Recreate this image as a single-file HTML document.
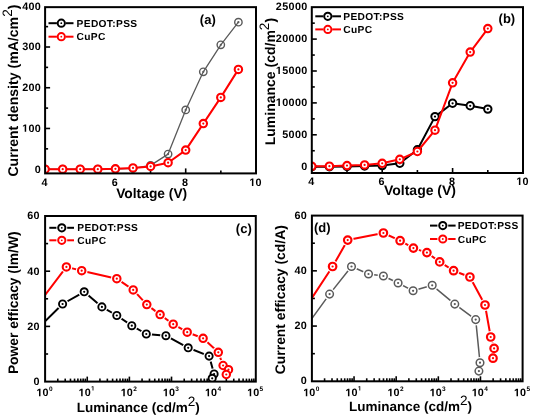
<!DOCTYPE html>
<html><head><meta charset="utf-8"><style>
html,body{margin:0;padding:0;background:#fff;}
body{width:533px;height:418px;overflow:hidden;font-family:"Liberation Sans",sans-serif;}
svg{display:block;will-change:transform;}
</style></head><body>
<svg width="533" height="418" viewBox="0 0 533 418" text-rendering="geometricPrecision">
<rect width="533" height="418" fill="#fff"/>
<clipPath id="cA"><rect x="45.1" y="7.15" width="210.9" height="166.25"/></clipPath>
<line x1="45.1" y1="169.2" x2="50.1" y2="169.2" stroke="#000" stroke-width="1.6"/>
<line x1="45.1" y1="148.83499999999998" x2="48.1" y2="148.83499999999998" stroke="#000" stroke-width="1.6"/>
<line x1="45.1" y1="128.47" x2="50.1" y2="128.47" stroke="#000" stroke-width="1.6"/>
<line x1="45.1" y1="108.10499999999999" x2="48.1" y2="108.10499999999999" stroke="#000" stroke-width="1.6"/>
<line x1="45.1" y1="87.74" x2="50.1" y2="87.74" stroke="#000" stroke-width="1.6"/>
<line x1="45.1" y1="67.37499999999999" x2="48.1" y2="67.37499999999999" stroke="#000" stroke-width="1.6"/>
<line x1="45.1" y1="47.00999999999999" x2="50.1" y2="47.00999999999999" stroke="#000" stroke-width="1.6"/>
<line x1="45.1" y1="26.644999999999982" x2="48.1" y2="26.644999999999982" stroke="#000" stroke-width="1.6"/>
<line x1="80.25" y1="173.4" x2="80.25" y2="170.4" stroke="#000" stroke-width="1.6"/>
<line x1="115.4" y1="173.4" x2="115.4" y2="168.4" stroke="#000" stroke-width="1.6"/>
<line x1="150.55" y1="173.4" x2="150.55" y2="170.4" stroke="#000" stroke-width="1.6"/>
<line x1="185.7" y1="173.4" x2="185.7" y2="168.4" stroke="#000" stroke-width="1.6"/>
<line x1="220.85" y1="173.4" x2="220.85" y2="170.4" stroke="#000" stroke-width="1.6"/>
<text x="34.79" y="172.6" font-size="10.8" font-family="Liberation Sans, sans-serif" font-weight="bold" letter-spacing="0.3" >0</text>
<text x="22.18" y="131.87" font-size="10.8" font-family="Liberation Sans, sans-serif" font-weight="bold" letter-spacing="0.3" > 00</text>
<path d="M478,0 L478,1170 L140,959 L140,1180 L493,1409 L759,1409 L759,0 Z" transform="translate(22.18,131.87) scale(0.00527,-0.00527)"/>
<text x="22.18" y="91.14" font-size="10.8" font-family="Liberation Sans, sans-serif" font-weight="bold" letter-spacing="0.3" >200</text>
<text x="22.18" y="50.40999999999999" font-size="10.8" font-family="Liberation Sans, sans-serif" font-weight="bold" letter-spacing="0.3" >300</text>
<text x="22.18" y="9.680000000000001" font-size="10.8" font-family="Liberation Sans, sans-serif" font-weight="bold" letter-spacing="0.3" >400</text>
<text x="44.5" y="186.0" font-size="10.8" text-anchor="middle" font-family="Liberation Sans, sans-serif" font-weight="bold" >4</text>
<text x="114.80000000000001" y="186.0" font-size="10.8" text-anchor="middle" font-family="Liberation Sans, sans-serif" font-weight="bold" >6</text>
<text x="185.1" y="186.0" font-size="10.8" text-anchor="middle" font-family="Liberation Sans, sans-serif" font-weight="bold" >8</text>
<text x="249.39" y="186.0" font-size="10.8" font-family="Liberation Sans, sans-serif" font-weight="bold" > 0</text>
<path d="M478,0 L478,1170 L140,959 L140,1180 L493,1409 L759,1409 L759,0 Z" transform="translate(249.39,186.0) scale(0.00527,-0.00527)"/>
<text x="151.7" y="197.9" font-size="13.8" text-anchor="middle" font-family="Liberation Sans, sans-serif" font-weight="bold" >Voltage (V)</text>
<text x="0" y="0" font-size="14.1" text-anchor="middle" font-family="Liberation Sans, sans-serif" font-weight="bold" transform="translate(17.9,90.6) rotate(-90)">Current density (mA/cm<tspan font-size="13.6" font-weight="normal" dy="-6">2</tspan><tspan dy="6">)</tspan></text>
<text x="207.8" y="23.8" font-size="13" text-anchor="middle" font-family="Liberation Sans, sans-serif" font-weight="bold" >(a)</text>
<g clip-path="url(#cA)">
<path d="M45.1,169.2 L62.7,169.2 L80.2,169.2 L97.8,169.2 L115.4,169.0 L133.0,168.4 L150.6,165.4 L168.1,154.1 L185.7,109.9 L203.3,71.8 L220.8,44.8 L238.4,22.2" fill="none" stroke="#5a5a5a" stroke-width="1.3" stroke-linejoin="round"/>
<circle cx="45.1" cy="169.2" r="3.7" fill="none" stroke="#5a5a5a" stroke-width="1.4"/>
<circle cx="45.1" cy="169.2" r="1.1" fill="#5a5a5a"/>
<circle cx="62.7" cy="169.2" r="3.7" fill="none" stroke="#5a5a5a" stroke-width="1.4"/>
<circle cx="62.7" cy="169.2" r="1.1" fill="#5a5a5a"/>
<circle cx="80.2" cy="169.2" r="3.7" fill="none" stroke="#5a5a5a" stroke-width="1.4"/>
<circle cx="80.2" cy="169.2" r="1.1" fill="#5a5a5a"/>
<circle cx="97.8" cy="169.2" r="3.7" fill="none" stroke="#5a5a5a" stroke-width="1.4"/>
<circle cx="97.8" cy="169.2" r="1.1" fill="#5a5a5a"/>
<circle cx="115.4" cy="169.0" r="3.7" fill="none" stroke="#5a5a5a" stroke-width="1.4"/>
<circle cx="115.4" cy="169.0" r="1.1" fill="#5a5a5a"/>
<circle cx="133.0" cy="168.4" r="3.7" fill="none" stroke="#5a5a5a" stroke-width="1.4"/>
<circle cx="133.0" cy="168.4" r="1.1" fill="#5a5a5a"/>
<circle cx="150.6" cy="165.4" r="3.7" fill="none" stroke="#5a5a5a" stroke-width="1.4"/>
<circle cx="150.6" cy="165.4" r="1.1" fill="#5a5a5a"/>
<circle cx="168.1" cy="154.1" r="3.7" fill="none" stroke="#5a5a5a" stroke-width="1.4"/>
<circle cx="168.1" cy="154.1" r="1.1" fill="#5a5a5a"/>
<circle cx="185.7" cy="109.9" r="3.7" fill="none" stroke="#5a5a5a" stroke-width="1.4"/>
<circle cx="185.7" cy="109.9" r="1.1" fill="#5a5a5a"/>
<circle cx="203.3" cy="71.8" r="3.7" fill="none" stroke="#5a5a5a" stroke-width="1.4"/>
<circle cx="203.3" cy="71.8" r="1.1" fill="#5a5a5a"/>
<circle cx="220.8" cy="44.8" r="3.7" fill="none" stroke="#5a5a5a" stroke-width="1.4"/>
<circle cx="220.8" cy="44.8" r="1.1" fill="#5a5a5a"/>
<circle cx="238.4" cy="22.2" r="3.7" fill="none" stroke="#5a5a5a" stroke-width="1.4"/>
<circle cx="238.4" cy="22.2" r="1.1" fill="#5a5a5a"/>
</g>
<g clip-path="url(#cA)">
<path d="M45.1,169.2 L62.7,169.2 L80.2,169.2 L97.8,169.2 L115.4,168.8 L133.0,167.9 L150.6,166.4 L168.1,162.7 L185.7,150.1 L203.3,123.6 L220.8,97.4 L238.4,69.4" fill="none" stroke="#ff0000" stroke-width="2.0" stroke-linejoin="round"/>
<circle cx="45.1" cy="169.2" r="3.7" fill="#fff" stroke="#ff0000" stroke-width="2.1"/>
<circle cx="45.1" cy="169.2" r="1.1" fill="#ff0000"/>
<circle cx="62.7" cy="169.2" r="3.7" fill="#fff" stroke="#ff0000" stroke-width="2.1"/>
<circle cx="62.7" cy="169.2" r="1.1" fill="#ff0000"/>
<circle cx="80.2" cy="169.2" r="3.7" fill="#fff" stroke="#ff0000" stroke-width="2.1"/>
<circle cx="80.2" cy="169.2" r="1.1" fill="#ff0000"/>
<circle cx="97.8" cy="169.2" r="3.7" fill="#fff" stroke="#ff0000" stroke-width="2.1"/>
<circle cx="97.8" cy="169.2" r="1.1" fill="#ff0000"/>
<circle cx="115.4" cy="168.8" r="3.7" fill="#fff" stroke="#ff0000" stroke-width="2.1"/>
<circle cx="115.4" cy="168.8" r="1.1" fill="#ff0000"/>
<circle cx="133.0" cy="167.9" r="3.7" fill="#fff" stroke="#ff0000" stroke-width="2.1"/>
<circle cx="133.0" cy="167.9" r="1.1" fill="#ff0000"/>
<circle cx="150.6" cy="166.4" r="3.7" fill="#fff" stroke="#ff0000" stroke-width="2.1"/>
<circle cx="150.6" cy="166.4" r="1.1" fill="#ff0000"/>
<circle cx="168.1" cy="162.7" r="3.7" fill="#fff" stroke="#ff0000" stroke-width="2.1"/>
<circle cx="168.1" cy="162.7" r="1.1" fill="#ff0000"/>
<circle cx="185.7" cy="150.1" r="3.7" fill="#fff" stroke="#ff0000" stroke-width="2.1"/>
<circle cx="185.7" cy="150.1" r="1.1" fill="#ff0000"/>
<circle cx="203.3" cy="123.6" r="3.7" fill="#fff" stroke="#ff0000" stroke-width="2.1"/>
<circle cx="203.3" cy="123.6" r="1.1" fill="#ff0000"/>
<circle cx="220.8" cy="97.4" r="3.7" fill="#fff" stroke="#ff0000" stroke-width="2.1"/>
<circle cx="220.8" cy="97.4" r="1.1" fill="#ff0000"/>
<circle cx="238.4" cy="69.4" r="3.7" fill="#fff" stroke="#ff0000" stroke-width="2.1"/>
<circle cx="238.4" cy="69.4" r="1.1" fill="#ff0000"/>
</g>
<rect x="45.1" y="7.15" width="210.9" height="166.25" fill="none" stroke="#000" stroke-width="2"/>
<line x1="48.5" y1="23.2" x2="56.9" y2="23.2" stroke="#000000" stroke-width="2.0"/>
<line x1="65.7" y1="23.2" x2="73.5" y2="23.2" stroke="#000000" stroke-width="2.0"/>
<circle cx="61.3" cy="23.2" r="3.6" fill="#fff" stroke="#000000" stroke-width="2.0"/>
<circle cx="61.3" cy="23.2" r="0.9" fill="#000000"/>
<text x="76.6" y="26.5" font-size="10.2" text-anchor="start" font-family="Liberation Sans, sans-serif" font-weight="bold" letter-spacing="0.35">PEDOT:PSS</text>
<line x1="48.5" y1="36.7" x2="56.9" y2="36.7" stroke="#ff0000" stroke-width="2.0"/>
<line x1="65.7" y1="36.7" x2="73.5" y2="36.7" stroke="#ff0000" stroke-width="2.0"/>
<circle cx="61.3" cy="36.7" r="3.6" fill="#fff" stroke="#ff0000" stroke-width="2.0"/>
<circle cx="61.3" cy="36.7" r="0.9" fill="#ff0000"/>
<text x="76.6" y="40.0" font-size="10.2" text-anchor="start" font-family="Liberation Sans, sans-serif" font-weight="bold" letter-spacing="0.35">CuPC</text>
<clipPath id="cB"><rect x="311.8" y="7.15" width="211.2" height="165.85"/></clipPath>
<line x1="311.8" y1="166.7" x2="316.8" y2="166.7" stroke="#000" stroke-width="1.6"/>
<line x1="311.8" y1="150.75" x2="314.8" y2="150.75" stroke="#000" stroke-width="1.6"/>
<line x1="311.8" y1="134.79999999999998" x2="316.8" y2="134.79999999999998" stroke="#000" stroke-width="1.6"/>
<line x1="311.8" y1="118.85" x2="314.8" y2="118.85" stroke="#000" stroke-width="1.6"/>
<line x1="311.8" y1="102.89999999999999" x2="316.8" y2="102.89999999999999" stroke="#000" stroke-width="1.6"/>
<line x1="311.8" y1="86.94999999999999" x2="314.8" y2="86.94999999999999" stroke="#000" stroke-width="1.6"/>
<line x1="311.8" y1="70.99999999999999" x2="316.8" y2="70.99999999999999" stroke="#000" stroke-width="1.6"/>
<line x1="311.8" y1="55.04999999999998" x2="314.8" y2="55.04999999999998" stroke="#000" stroke-width="1.6"/>
<line x1="311.8" y1="39.099999999999994" x2="316.8" y2="39.099999999999994" stroke="#000" stroke-width="1.6"/>
<line x1="311.8" y1="23.149999999999977" x2="314.8" y2="23.149999999999977" stroke="#000" stroke-width="1.6"/>
<line x1="347.0" y1="173.0" x2="347.0" y2="170.0" stroke="#000" stroke-width="1.6"/>
<line x1="382.2" y1="173.0" x2="382.2" y2="168.0" stroke="#000" stroke-width="1.6"/>
<line x1="417.4" y1="173.0" x2="417.4" y2="170.0" stroke="#000" stroke-width="1.6"/>
<line x1="452.6" y1="173.0" x2="452.6" y2="168.0" stroke="#000" stroke-width="1.6"/>
<line x1="487.8" y1="173.0" x2="487.8" y2="170.0" stroke="#000" stroke-width="1.6"/>
<text x="301.29" y="169.79999999999998" font-size="10.8" font-family="Liberation Sans, sans-serif" font-weight="bold" letter-spacing="0.35" >0</text>
<text x="282.22" y="137.89999999999998" font-size="10.8" font-family="Liberation Sans, sans-serif" font-weight="bold" letter-spacing="0.35" >5000</text>
<text x="275.87" y="105.99999999999999" font-size="10.8" font-family="Liberation Sans, sans-serif" font-weight="bold" letter-spacing="0.35" > 0000</text>
<path d="M478,0 L478,1170 L140,959 L140,1180 L493,1409 L759,1409 L759,0 Z" transform="translate(275.87,105.99999999999999) scale(0.00527,-0.00527)"/>
<text x="275.87" y="74.09999999999998" font-size="10.8" font-family="Liberation Sans, sans-serif" font-weight="bold" letter-spacing="0.35" > 5000</text>
<path d="M478,0 L478,1170 L140,959 L140,1180 L493,1409 L759,1409 L759,0 Z" transform="translate(275.87,74.09999999999998) scale(0.00527,-0.00527)"/>
<text x="275.87" y="42.199999999999996" font-size="10.8" font-family="Liberation Sans, sans-serif" font-weight="bold" letter-spacing="0.35" >20000</text>
<text x="275.87" y="10.299999999999988" font-size="10.8" font-family="Liberation Sans, sans-serif" font-weight="bold" letter-spacing="0.35" >25000</text>
<text x="311.2" y="185.0" font-size="10.8" text-anchor="middle" font-family="Liberation Sans, sans-serif" font-weight="bold" >4</text>
<text x="381.59999999999997" y="185.0" font-size="10.8" text-anchor="middle" font-family="Liberation Sans, sans-serif" font-weight="bold" >6</text>
<text x="452.0" y="185.0" font-size="10.8" text-anchor="middle" font-family="Liberation Sans, sans-serif" font-weight="bold" >8</text>
<text x="516.39" y="185.0" font-size="10.8" font-family="Liberation Sans, sans-serif" font-weight="bold" > 0</text>
<path d="M478,0 L478,1170 L140,959 L140,1180 L493,1409 L759,1409 L759,0 Z" transform="translate(516.39,185.0) scale(0.00527,-0.00527)"/>
<text x="420.0" y="195.2" font-size="14" text-anchor="middle" font-family="Liberation Sans, sans-serif" font-weight="bold" >Voltage (V)</text>
<text x="0" y="0" font-size="14" text-anchor="middle" font-family="Liberation Sans, sans-serif" font-weight="bold" transform="translate(275.1,81.6) rotate(-90)">Luminance (cd/m<tspan font-size="13.6" font-weight="normal" dy="-6">2</tspan><tspan dy="6">)</tspan></text>
<text x="506.9" y="23.2" font-size="13" text-anchor="middle" font-family="Liberation Sans, sans-serif" font-weight="bold" >(b)</text>
<g clip-path="url(#cB)">
<path d="M311.8,166.7 L329.4,166.7 L347.0,166.5 L364.6,166.0 L382.2,165.6 L399.8,163.3 L417.4,149.8 L435.0,116.6 L452.6,103.3 L470.2,105.8 L487.8,109.1" fill="none" stroke="#000000" stroke-width="2.0" stroke-linejoin="round"/>
<circle cx="311.8" cy="166.7" r="3.7" fill="#fff" stroke="#000000" stroke-width="2.0"/>
<circle cx="311.8" cy="166.7" r="1.1" fill="#000000"/>
<circle cx="329.4" cy="166.7" r="3.7" fill="#fff" stroke="#000000" stroke-width="2.0"/>
<circle cx="329.4" cy="166.7" r="1.1" fill="#000000"/>
<circle cx="347.0" cy="166.5" r="3.7" fill="#fff" stroke="#000000" stroke-width="2.0"/>
<circle cx="347.0" cy="166.5" r="1.1" fill="#000000"/>
<circle cx="364.6" cy="166.0" r="3.7" fill="#fff" stroke="#000000" stroke-width="2.0"/>
<circle cx="364.6" cy="166.0" r="1.1" fill="#000000"/>
<circle cx="382.2" cy="165.6" r="3.7" fill="#fff" stroke="#000000" stroke-width="2.0"/>
<circle cx="382.2" cy="165.6" r="1.1" fill="#000000"/>
<circle cx="399.8" cy="163.3" r="3.7" fill="#fff" stroke="#000000" stroke-width="2.0"/>
<circle cx="399.8" cy="163.3" r="1.1" fill="#000000"/>
<circle cx="417.4" cy="149.8" r="3.7" fill="#fff" stroke="#000000" stroke-width="2.0"/>
<circle cx="417.4" cy="149.8" r="1.1" fill="#000000"/>
<circle cx="435.0" cy="116.6" r="3.7" fill="#fff" stroke="#000000" stroke-width="2.0"/>
<circle cx="435.0" cy="116.6" r="1.1" fill="#000000"/>
<circle cx="452.6" cy="103.3" r="3.7" fill="#fff" stroke="#000000" stroke-width="2.0"/>
<circle cx="452.6" cy="103.3" r="1.1" fill="#000000"/>
<circle cx="470.2" cy="105.8" r="3.7" fill="#fff" stroke="#000000" stroke-width="2.0"/>
<circle cx="470.2" cy="105.8" r="1.1" fill="#000000"/>
<circle cx="487.8" cy="109.1" r="3.7" fill="#fff" stroke="#000000" stroke-width="2.0"/>
<circle cx="487.8" cy="109.1" r="1.1" fill="#000000"/>
</g>
<g clip-path="url(#cB)">
<path d="M311.8,166.3 L329.4,166.2 L347.0,165.6 L364.6,164.9 L382.2,163.3 L399.8,159.3 L417.4,151.5 L435.0,130.2 L452.6,82.8 L470.2,52.1 L487.8,28.6" fill="none" stroke="#ff0000" stroke-width="2.0" stroke-linejoin="round"/>
<circle cx="311.8" cy="166.3" r="3.7" fill="#fff" stroke="#ff0000" stroke-width="2.1"/>
<circle cx="311.8" cy="166.3" r="1.1" fill="#ff0000"/>
<circle cx="329.4" cy="166.2" r="3.7" fill="#fff" stroke="#ff0000" stroke-width="2.1"/>
<circle cx="329.4" cy="166.2" r="1.1" fill="#ff0000"/>
<circle cx="347.0" cy="165.6" r="3.7" fill="#fff" stroke="#ff0000" stroke-width="2.1"/>
<circle cx="347.0" cy="165.6" r="1.1" fill="#ff0000"/>
<circle cx="364.6" cy="164.9" r="3.7" fill="#fff" stroke="#ff0000" stroke-width="2.1"/>
<circle cx="364.6" cy="164.9" r="1.1" fill="#ff0000"/>
<circle cx="382.2" cy="163.3" r="3.7" fill="#fff" stroke="#ff0000" stroke-width="2.1"/>
<circle cx="382.2" cy="163.3" r="1.1" fill="#ff0000"/>
<circle cx="399.8" cy="159.3" r="3.7" fill="#fff" stroke="#ff0000" stroke-width="2.1"/>
<circle cx="399.8" cy="159.3" r="1.1" fill="#ff0000"/>
<circle cx="417.4" cy="151.5" r="3.7" fill="#fff" stroke="#ff0000" stroke-width="2.1"/>
<circle cx="417.4" cy="151.5" r="1.1" fill="#ff0000"/>
<circle cx="435.0" cy="130.2" r="3.7" fill="#fff" stroke="#ff0000" stroke-width="2.1"/>
<circle cx="435.0" cy="130.2" r="1.1" fill="#ff0000"/>
<circle cx="452.6" cy="82.8" r="3.7" fill="#fff" stroke="#ff0000" stroke-width="2.1"/>
<circle cx="452.6" cy="82.8" r="1.1" fill="#ff0000"/>
<circle cx="470.2" cy="52.1" r="3.7" fill="#fff" stroke="#ff0000" stroke-width="2.1"/>
<circle cx="470.2" cy="52.1" r="1.1" fill="#ff0000"/>
<circle cx="487.8" cy="28.6" r="3.7" fill="#fff" stroke="#ff0000" stroke-width="2.1"/>
<circle cx="487.8" cy="28.6" r="1.1" fill="#ff0000"/>
</g>
<rect x="311.8" y="7.15" width="211.2" height="165.85" fill="none" stroke="#000" stroke-width="2"/>
<line x1="315.3" y1="16.3" x2="323.40000000000003" y2="16.3" stroke="#000000" stroke-width="2.0"/>
<line x1="332.2" y1="16.3" x2="341.0" y2="16.3" stroke="#000000" stroke-width="2.0"/>
<circle cx="327.8" cy="16.3" r="3.6" fill="#fff" stroke="#000000" stroke-width="2.0"/>
<circle cx="327.8" cy="16.3" r="0.9" fill="#000000"/>
<text x="343.3" y="19.6" font-size="10.2" text-anchor="start" font-family="Liberation Sans, sans-serif" font-weight="bold" letter-spacing="0.35">PEDOT:PSS</text>
<line x1="315.3" y1="29.4" x2="323.40000000000003" y2="29.4" stroke="#ff0000" stroke-width="2.0"/>
<line x1="332.2" y1="29.4" x2="341.0" y2="29.4" stroke="#ff0000" stroke-width="2.0"/>
<circle cx="327.8" cy="29.4" r="3.6" fill="#fff" stroke="#ff0000" stroke-width="2.0"/>
<circle cx="327.8" cy="29.4" r="0.9" fill="#ff0000"/>
<text x="343.3" y="33.0" font-size="10.2" text-anchor="start" font-family="Liberation Sans, sans-serif" font-weight="bold" letter-spacing="0.35">CuPC</text>
<clipPath id="cC"><rect x="45.1" y="216.0" width="210.70000000000002" height="165.60000000000002"/></clipPath>
<line x1="45.1" y1="354.0" x2="48.1" y2="354.0" stroke="#000" stroke-width="1.6"/>
<line x1="45.1" y1="326.40000000000003" x2="50.1" y2="326.40000000000003" stroke="#000" stroke-width="1.6"/>
<line x1="45.1" y1="298.8" x2="48.1" y2="298.8" stroke="#000" stroke-width="1.6"/>
<line x1="45.1" y1="271.2" x2="50.1" y2="271.2" stroke="#000" stroke-width="1.6"/>
<line x1="45.1" y1="243.6" x2="48.1" y2="243.6" stroke="#000" stroke-width="1.6"/>
<line x1="57.78540401728017" y1="381.6" x2="57.78540401728017" y2="378.6" stroke="#000" stroke-width="1.6"/>
<line x1="65.20588967388657" y1="381.6" x2="65.20588967388657" y2="378.6" stroke="#000" stroke-width="1.6"/>
<line x1="70.47080803456033" y1="381.6" x2="70.47080803456033" y2="378.6" stroke="#000" stroke-width="1.6"/>
<line x1="74.55459598271983" y1="381.6" x2="74.55459598271983" y2="378.6" stroke="#000" stroke-width="1.6"/>
<line x1="77.89129369116674" y1="381.6" x2="77.89129369116674" y2="378.6" stroke="#000" stroke-width="1.6"/>
<line x1="80.71243140620078" y1="381.6" x2="80.71243140620078" y2="378.6" stroke="#000" stroke-width="1.6"/>
<line x1="83.1562120518405" y1="381.6" x2="83.1562120518405" y2="378.6" stroke="#000" stroke-width="1.6"/>
<line x1="85.31177934777315" y1="381.6" x2="85.31177934777315" y2="378.6" stroke="#000" stroke-width="1.6"/>
<line x1="99.92540401728017" y1="381.6" x2="99.92540401728017" y2="378.6" stroke="#000" stroke-width="1.6"/>
<line x1="107.34588967388657" y1="381.6" x2="107.34588967388657" y2="378.6" stroke="#000" stroke-width="1.6"/>
<line x1="112.61080803456034" y1="381.6" x2="112.61080803456034" y2="378.6" stroke="#000" stroke-width="1.6"/>
<line x1="116.69459598271985" y1="381.6" x2="116.69459598271985" y2="378.6" stroke="#000" stroke-width="1.6"/>
<line x1="120.03129369116675" y1="381.6" x2="120.03129369116675" y2="378.6" stroke="#000" stroke-width="1.6"/>
<line x1="122.8524314062008" y1="381.6" x2="122.8524314062008" y2="378.6" stroke="#000" stroke-width="1.6"/>
<line x1="125.29621205184051" y1="381.6" x2="125.29621205184051" y2="378.6" stroke="#000" stroke-width="1.6"/>
<line x1="127.45177934777314" y1="381.6" x2="127.45177934777314" y2="378.6" stroke="#000" stroke-width="1.6"/>
<line x1="87.24000000000001" y1="381.6" x2="87.24000000000001" y2="376.6" stroke="#000" stroke-width="1.6"/>
<line x1="142.06540401728017" y1="381.6" x2="142.06540401728017" y2="378.6" stroke="#000" stroke-width="1.6"/>
<line x1="149.4858896738866" y1="381.6" x2="149.4858896738866" y2="378.6" stroke="#000" stroke-width="1.6"/>
<line x1="154.75080803456035" y1="381.6" x2="154.75080803456035" y2="378.6" stroke="#000" stroke-width="1.6"/>
<line x1="158.83459598271983" y1="381.6" x2="158.83459598271983" y2="378.6" stroke="#000" stroke-width="1.6"/>
<line x1="162.17129369116677" y1="381.6" x2="162.17129369116677" y2="378.6" stroke="#000" stroke-width="1.6"/>
<line x1="164.99243140620078" y1="381.6" x2="164.99243140620078" y2="378.6" stroke="#000" stroke-width="1.6"/>
<line x1="167.4362120518405" y1="381.6" x2="167.4362120518405" y2="378.6" stroke="#000" stroke-width="1.6"/>
<line x1="169.59177934777315" y1="381.6" x2="169.59177934777315" y2="378.6" stroke="#000" stroke-width="1.6"/>
<line x1="129.38" y1="381.6" x2="129.38" y2="376.6" stroke="#000" stroke-width="1.6"/>
<line x1="184.20540401728016" y1="381.6" x2="184.20540401728016" y2="378.6" stroke="#000" stroke-width="1.6"/>
<line x1="191.62588967388658" y1="381.6" x2="191.62588967388658" y2="378.6" stroke="#000" stroke-width="1.6"/>
<line x1="196.89080803456034" y1="381.6" x2="196.89080803456034" y2="378.6" stroke="#000" stroke-width="1.6"/>
<line x1="200.97459598271982" y1="381.6" x2="200.97459598271982" y2="378.6" stroke="#000" stroke-width="1.6"/>
<line x1="204.31129369116675" y1="381.6" x2="204.31129369116675" y2="378.6" stroke="#000" stroke-width="1.6"/>
<line x1="207.1324314062008" y1="381.6" x2="207.1324314062008" y2="378.6" stroke="#000" stroke-width="1.6"/>
<line x1="209.5762120518405" y1="381.6" x2="209.5762120518405" y2="378.6" stroke="#000" stroke-width="1.6"/>
<line x1="211.73177934777314" y1="381.6" x2="211.73177934777314" y2="378.6" stroke="#000" stroke-width="1.6"/>
<line x1="171.52" y1="381.6" x2="171.52" y2="376.6" stroke="#000" stroke-width="1.6"/>
<line x1="226.34540401728017" y1="381.6" x2="226.34540401728017" y2="378.6" stroke="#000" stroke-width="1.6"/>
<line x1="233.7658896738866" y1="381.6" x2="233.7658896738866" y2="378.6" stroke="#000" stroke-width="1.6"/>
<line x1="239.03080803456032" y1="381.6" x2="239.03080803456032" y2="378.6" stroke="#000" stroke-width="1.6"/>
<line x1="243.11459598271983" y1="381.6" x2="243.11459598271983" y2="378.6" stroke="#000" stroke-width="1.6"/>
<line x1="246.45129369116674" y1="381.6" x2="246.45129369116674" y2="378.6" stroke="#000" stroke-width="1.6"/>
<line x1="249.27243140620078" y1="381.6" x2="249.27243140620078" y2="378.6" stroke="#000" stroke-width="1.6"/>
<line x1="251.7162120518405" y1="381.6" x2="251.7162120518405" y2="378.6" stroke="#000" stroke-width="1.6"/>
<line x1="253.87177934777316" y1="381.6" x2="253.87177934777316" y2="378.6" stroke="#000" stroke-width="1.6"/>
<line x1="213.66" y1="381.6" x2="213.66" y2="376.6" stroke="#000" stroke-width="1.6"/>
<text x="36.49" y="396.3" font-size="10.8" font-family="Liberation Sans, sans-serif" font-weight="bold" > 0</text>
<path d="M478,0 L478,1170 L140,959 L140,1180 L493,1409 L759,1409 L759,0 Z" transform="translate(36.49,396.3) scale(0.00527,-0.00527)"/>
<text x="48.9" y="390.6" font-size="6.5" text-anchor="start" font-family="Liberation Sans, sans-serif" font-weight="bold" >0</text>
<text x="78.63" y="396.3" font-size="10.8" font-family="Liberation Sans, sans-serif" font-weight="bold" > 0</text>
<path d="M478,0 L478,1170 L140,959 L140,1180 L493,1409 L759,1409 L759,0 Z" transform="translate(78.63,396.3) scale(0.00527,-0.00527)"/>
<text x="91.04" y="390.6" font-size="6.5" font-family="Liberation Sans, sans-serif" font-weight="bold" > </text>
<path d="M478,0 L478,1170 L140,959 L140,1180 L493,1409 L759,1409 L759,0 Z" transform="translate(91.04,390.6) scale(0.00317,-0.00317)"/>
<text x="120.77" y="396.3" font-size="10.8" font-family="Liberation Sans, sans-serif" font-weight="bold" > 0</text>
<path d="M478,0 L478,1170 L140,959 L140,1180 L493,1409 L759,1409 L759,0 Z" transform="translate(120.77,396.3) scale(0.00527,-0.00527)"/>
<text x="133.18" y="390.6" font-size="6.5" text-anchor="start" font-family="Liberation Sans, sans-serif" font-weight="bold" >2</text>
<text x="162.91" y="396.3" font-size="10.8" font-family="Liberation Sans, sans-serif" font-weight="bold" > 0</text>
<path d="M478,0 L478,1170 L140,959 L140,1180 L493,1409 L759,1409 L759,0 Z" transform="translate(162.91,396.3) scale(0.00527,-0.00527)"/>
<text x="175.32" y="390.6" font-size="6.5" text-anchor="start" font-family="Liberation Sans, sans-serif" font-weight="bold" >3</text>
<text x="205.05" y="396.3" font-size="10.8" font-family="Liberation Sans, sans-serif" font-weight="bold" > 0</text>
<path d="M478,0 L478,1170 L140,959 L140,1180 L493,1409 L759,1409 L759,0 Z" transform="translate(205.05,396.3) scale(0.00527,-0.00527)"/>
<text x="217.46" y="390.6" font-size="6.5" text-anchor="start" font-family="Liberation Sans, sans-serif" font-weight="bold" >4</text>
<text x="247.19" y="396.3" font-size="10.8" font-family="Liberation Sans, sans-serif" font-weight="bold" > 0</text>
<path d="M478,0 L478,1170 L140,959 L140,1180 L493,1409 L759,1409 L759,0 Z" transform="translate(247.19,396.3) scale(0.00527,-0.00527)"/>
<text x="259.6" y="390.6" font-size="6.5" text-anchor="start" font-family="Liberation Sans, sans-serif" font-weight="bold" >5</text>
<text x="33.59" y="384.90000000000003" font-size="10.8" font-family="Liberation Sans, sans-serif" font-weight="bold" letter-spacing="0.3" >0</text>
<text x="27.29" y="329.70000000000005" font-size="10.8" font-family="Liberation Sans, sans-serif" font-weight="bold" letter-spacing="0.3" >20</text>
<text x="27.29" y="274.5" font-size="10.8" font-family="Liberation Sans, sans-serif" font-weight="bold" letter-spacing="0.3" >40</text>
<text x="27.29" y="219.3" font-size="10.8" font-family="Liberation Sans, sans-serif" font-weight="bold" letter-spacing="0.3" >60</text>
<text x="138.3" y="412.2" font-size="13.5" text-anchor="middle" font-family="Liberation Sans, sans-serif" font-weight="bold" >Luminance (cd/m<tspan font-size="13.6" font-weight="normal" dy="-6">2</tspan><tspan dy="6">)</tspan></text>
<text x="0" y="0" font-size="13.8" text-anchor="middle" font-family="Liberation Sans, sans-serif" font-weight="bold" transform="translate(18.3,302.8) rotate(-90)">Power efficacy (lm/W)</text>
<text x="243.8" y="232.8" font-size="13" text-anchor="middle" font-family="Liberation Sans, sans-serif" font-weight="bold" >(c)</text>
<g clip-path="url(#cC)">
<mask id="m1" maskUnits="userSpaceOnUse" x="0" y="0" width="533" height="418"><rect width="533" height="418" fill="#fff"/><circle cx="62.6" cy="304.0" r="5.8" fill="#000"/><circle cx="84.2" cy="291.8" r="5.8" fill="#000"/><circle cx="101.9" cy="306.9" r="5.8" fill="#000"/><circle cx="116.8" cy="315.5" r="5.8" fill="#000"/><circle cx="131.8" cy="325.7" r="5.8" fill="#000"/><circle cx="146.3" cy="334.0" r="5.8" fill="#000"/><circle cx="165.9" cy="335.7" r="5.8" fill="#000"/><circle cx="188.2" cy="347.8" r="5.8" fill="#000"/><circle cx="209.1" cy="356.1" r="5.8" fill="#000"/><circle cx="214.1" cy="374.0" r="5.8" fill="#000"/><circle cx="212.2" cy="378.3" r="5.8" fill="#000"/></mask>
<path d="M42.2,324.1 L62.6,304.0 L84.2,291.8 L101.9,306.9 L116.8,315.5 L131.8,325.7 L146.3,334.0 L165.9,335.7 L188.2,347.8 L209.1,356.1 L214.1,374.0 L212.2,378.3" fill="none" stroke="#000000" stroke-width="2.0" stroke-linejoin="round" mask="url(#m1)"/>
<circle cx="62.6" cy="304.0" r="3.6" fill="#fff" stroke="#000000" stroke-width="1.9"/>
<circle cx="62.6" cy="304.0" r="1.1" fill="#000000"/>
<circle cx="84.2" cy="291.8" r="3.6" fill="#fff" stroke="#000000" stroke-width="1.9"/>
<circle cx="84.2" cy="291.8" r="1.1" fill="#000000"/>
<circle cx="101.9" cy="306.9" r="3.6" fill="#fff" stroke="#000000" stroke-width="1.9"/>
<circle cx="101.9" cy="306.9" r="1.1" fill="#000000"/>
<circle cx="116.8" cy="315.5" r="3.6" fill="#fff" stroke="#000000" stroke-width="1.9"/>
<circle cx="116.8" cy="315.5" r="1.1" fill="#000000"/>
<circle cx="131.8" cy="325.7" r="3.6" fill="#fff" stroke="#000000" stroke-width="1.9"/>
<circle cx="131.8" cy="325.7" r="1.1" fill="#000000"/>
<circle cx="146.3" cy="334.0" r="3.6" fill="#fff" stroke="#000000" stroke-width="1.9"/>
<circle cx="146.3" cy="334.0" r="1.1" fill="#000000"/>
<circle cx="165.9" cy="335.7" r="3.6" fill="#fff" stroke="#000000" stroke-width="1.9"/>
<circle cx="165.9" cy="335.7" r="1.1" fill="#000000"/>
<circle cx="188.2" cy="347.8" r="3.6" fill="#fff" stroke="#000000" stroke-width="1.9"/>
<circle cx="188.2" cy="347.8" r="1.1" fill="#000000"/>
<circle cx="209.1" cy="356.1" r="3.6" fill="#fff" stroke="#000000" stroke-width="1.9"/>
<circle cx="209.1" cy="356.1" r="1.1" fill="#000000"/>
<circle cx="214.1" cy="374.0" r="3.6" fill="#fff" stroke="#000000" stroke-width="1.9"/>
<circle cx="214.1" cy="374.0" r="1.1" fill="#000000"/>
<circle cx="212.2" cy="378.3" r="3.6" fill="#fff" stroke="#000000" stroke-width="1.9"/>
<circle cx="212.2" cy="378.3" r="1.1" fill="#000000"/>
</g>
<g clip-path="url(#cC)">
<mask id="m2" maskUnits="userSpaceOnUse" x="0" y="0" width="533" height="418"><rect width="533" height="418" fill="#fff"/><circle cx="66.4" cy="266.9" r="5.9" fill="#000"/><circle cx="81.7" cy="270.7" r="5.9" fill="#000"/><circle cx="116.8" cy="278.7" r="5.9" fill="#000"/><circle cx="133.2" cy="289.9" r="5.9" fill="#000"/><circle cx="146.8" cy="304.6" r="5.9" fill="#000"/><circle cx="160.1" cy="314.6" r="5.9" fill="#000"/><circle cx="173.2" cy="324.2" r="5.9" fill="#000"/><circle cx="187.2" cy="332.2" r="5.9" fill="#000"/><circle cx="203.1" cy="338.3" r="5.9" fill="#000"/><circle cx="218.3" cy="352.3" r="5.9" fill="#000"/><circle cx="223.1" cy="365.5" r="5.9" fill="#000"/><circle cx="228.5" cy="369.7" r="5.9" fill="#000"/><circle cx="226.3" cy="374.5" r="5.9" fill="#000"/></mask>
<path d="M42.2,298.8 L66.4,266.9 L81.7,270.7 L116.8,278.7 L133.2,289.9 L146.8,304.6 L160.1,314.6 L173.2,324.2 L187.2,332.2 L203.1,338.3 L218.3,352.3 L223.1,365.5 L228.5,369.7 L226.3,374.5" fill="none" stroke="#ff0000" stroke-width="2.0" stroke-linejoin="round" mask="url(#m2)"/>
<circle cx="66.4" cy="266.9" r="3.7" fill="#fff" stroke="#ff0000" stroke-width="2.1"/>
<circle cx="66.4" cy="266.9" r="1.1" fill="#ff0000"/>
<circle cx="81.7" cy="270.7" r="3.7" fill="#fff" stroke="#ff0000" stroke-width="2.1"/>
<circle cx="81.7" cy="270.7" r="1.1" fill="#ff0000"/>
<circle cx="116.8" cy="278.7" r="3.7" fill="#fff" stroke="#ff0000" stroke-width="2.1"/>
<circle cx="116.8" cy="278.7" r="1.1" fill="#ff0000"/>
<circle cx="133.2" cy="289.9" r="3.7" fill="#fff" stroke="#ff0000" stroke-width="2.1"/>
<circle cx="133.2" cy="289.9" r="1.1" fill="#ff0000"/>
<circle cx="146.8" cy="304.6" r="3.7" fill="#fff" stroke="#ff0000" stroke-width="2.1"/>
<circle cx="146.8" cy="304.6" r="1.1" fill="#ff0000"/>
<circle cx="160.1" cy="314.6" r="3.7" fill="#fff" stroke="#ff0000" stroke-width="2.1"/>
<circle cx="160.1" cy="314.6" r="1.1" fill="#ff0000"/>
<circle cx="173.2" cy="324.2" r="3.7" fill="#fff" stroke="#ff0000" stroke-width="2.1"/>
<circle cx="173.2" cy="324.2" r="1.1" fill="#ff0000"/>
<circle cx="187.2" cy="332.2" r="3.7" fill="#fff" stroke="#ff0000" stroke-width="2.1"/>
<circle cx="187.2" cy="332.2" r="1.1" fill="#ff0000"/>
<circle cx="203.1" cy="338.3" r="3.7" fill="#fff" stroke="#ff0000" stroke-width="2.1"/>
<circle cx="203.1" cy="338.3" r="1.1" fill="#ff0000"/>
<circle cx="218.3" cy="352.3" r="3.7" fill="#fff" stroke="#ff0000" stroke-width="2.1"/>
<circle cx="218.3" cy="352.3" r="1.1" fill="#ff0000"/>
<circle cx="223.1" cy="365.5" r="3.7" fill="#fff" stroke="#ff0000" stroke-width="2.1"/>
<circle cx="223.1" cy="365.5" r="1.1" fill="#ff0000"/>
<circle cx="228.5" cy="369.7" r="3.7" fill="#fff" stroke="#ff0000" stroke-width="2.1"/>
<circle cx="228.5" cy="369.7" r="1.1" fill="#ff0000"/>
<circle cx="226.3" cy="374.5" r="3.7" fill="#fff" stroke="#ff0000" stroke-width="2.1"/>
<circle cx="226.3" cy="374.5" r="1.1" fill="#ff0000"/>
</g>
<rect x="45.1" y="216.0" width="210.70000000000002" height="165.60000000000002" fill="none" stroke="#000" stroke-width="2"/>
<line x1="49.3" y1="227.8" x2="56.4" y2="227.8" stroke="#000000" stroke-width="2.0"/>
<line x1="67.2" y1="227.8" x2="74.0" y2="227.8" stroke="#000000" stroke-width="2.0"/>
<circle cx="61.8" cy="227.8" r="3.6" fill="#fff" stroke="#000000" stroke-width="2.0"/>
<circle cx="61.8" cy="227.8" r="0.9" fill="#000000"/>
<text x="77.3" y="231.3" font-size="10.2" text-anchor="start" font-family="Liberation Sans, sans-serif" font-weight="bold" letter-spacing="0.35">PEDOT:PSS</text>
<line x1="49.3" y1="240.3" x2="56.4" y2="240.3" stroke="#ff0000" stroke-width="2.0"/>
<line x1="67.2" y1="240.3" x2="74.0" y2="240.3" stroke="#ff0000" stroke-width="2.0"/>
<circle cx="61.8" cy="240.3" r="3.6" fill="#fff" stroke="#ff0000" stroke-width="2.0"/>
<circle cx="61.8" cy="240.3" r="0.9" fill="#ff0000"/>
<text x="77.3" y="244.4" font-size="10.2" text-anchor="start" font-family="Liberation Sans, sans-serif" font-weight="bold" letter-spacing="0.35">CuPC</text>
<clipPath id="cD"><rect x="311.9" y="215.6" width="210.70000000000005" height="165.70000000000002"/></clipPath>
<line x1="311.9" y1="353.68333333333334" x2="314.9" y2="353.68333333333334" stroke="#000" stroke-width="1.6"/>
<line x1="311.9" y1="326.06666666666666" x2="316.9" y2="326.06666666666666" stroke="#000" stroke-width="1.6"/>
<line x1="311.9" y1="298.45" x2="314.9" y2="298.45" stroke="#000" stroke-width="1.6"/>
<line x1="311.9" y1="270.8333333333333" x2="316.9" y2="270.8333333333333" stroke="#000" stroke-width="1.6"/>
<line x1="311.9" y1="243.21666666666667" x2="314.9" y2="243.21666666666667" stroke="#000" stroke-width="1.6"/>
<line x1="324.58540401728015" y1="381.3" x2="324.58540401728015" y2="378.3" stroke="#000" stroke-width="1.6"/>
<line x1="332.00588967388654" y1="381.3" x2="332.00588967388654" y2="378.3" stroke="#000" stroke-width="1.6"/>
<line x1="337.27080803456033" y1="381.3" x2="337.27080803456033" y2="378.3" stroke="#000" stroke-width="1.6"/>
<line x1="341.35459598271984" y1="381.3" x2="341.35459598271984" y2="378.3" stroke="#000" stroke-width="1.6"/>
<line x1="344.6912936911667" y1="381.3" x2="344.6912936911667" y2="378.3" stroke="#000" stroke-width="1.6"/>
<line x1="347.5124314062008" y1="381.3" x2="347.5124314062008" y2="378.3" stroke="#000" stroke-width="1.6"/>
<line x1="349.9562120518405" y1="381.3" x2="349.9562120518405" y2="378.3" stroke="#000" stroke-width="1.6"/>
<line x1="352.1117793477731" y1="381.3" x2="352.1117793477731" y2="378.3" stroke="#000" stroke-width="1.6"/>
<line x1="366.72540401728014" y1="381.3" x2="366.72540401728014" y2="378.3" stroke="#000" stroke-width="1.6"/>
<line x1="374.1458896738866" y1="381.3" x2="374.1458896738866" y2="378.3" stroke="#000" stroke-width="1.6"/>
<line x1="379.4108080345603" y1="381.3" x2="379.4108080345603" y2="378.3" stroke="#000" stroke-width="1.6"/>
<line x1="383.49459598271983" y1="381.3" x2="383.49459598271983" y2="378.3" stroke="#000" stroke-width="1.6"/>
<line x1="386.8312936911667" y1="381.3" x2="386.8312936911667" y2="378.3" stroke="#000" stroke-width="1.6"/>
<line x1="389.6524314062008" y1="381.3" x2="389.6524314062008" y2="378.3" stroke="#000" stroke-width="1.6"/>
<line x1="392.0962120518405" y1="381.3" x2="392.0962120518405" y2="378.3" stroke="#000" stroke-width="1.6"/>
<line x1="394.25177934777315" y1="381.3" x2="394.25177934777315" y2="378.3" stroke="#000" stroke-width="1.6"/>
<line x1="354.03999999999996" y1="381.3" x2="354.03999999999996" y2="376.3" stroke="#000" stroke-width="1.6"/>
<line x1="408.8654040172802" y1="381.3" x2="408.8654040172802" y2="378.3" stroke="#000" stroke-width="1.6"/>
<line x1="416.2858896738866" y1="381.3" x2="416.2858896738866" y2="378.3" stroke="#000" stroke-width="1.6"/>
<line x1="421.5508080345603" y1="381.3" x2="421.5508080345603" y2="378.3" stroke="#000" stroke-width="1.6"/>
<line x1="425.6345959827198" y1="381.3" x2="425.6345959827198" y2="378.3" stroke="#000" stroke-width="1.6"/>
<line x1="428.97129369116675" y1="381.3" x2="428.97129369116675" y2="378.3" stroke="#000" stroke-width="1.6"/>
<line x1="431.79243140620076" y1="381.3" x2="431.79243140620076" y2="378.3" stroke="#000" stroke-width="1.6"/>
<line x1="434.23621205184054" y1="381.3" x2="434.23621205184054" y2="378.3" stroke="#000" stroke-width="1.6"/>
<line x1="436.39177934777314" y1="381.3" x2="436.39177934777314" y2="378.3" stroke="#000" stroke-width="1.6"/>
<line x1="396.18" y1="381.3" x2="396.18" y2="376.3" stroke="#000" stroke-width="1.6"/>
<line x1="451.00540401728017" y1="381.3" x2="451.00540401728017" y2="378.3" stroke="#000" stroke-width="1.6"/>
<line x1="458.42588967388656" y1="381.3" x2="458.42588967388656" y2="378.3" stroke="#000" stroke-width="1.6"/>
<line x1="463.69080803456035" y1="381.3" x2="463.69080803456035" y2="378.3" stroke="#000" stroke-width="1.6"/>
<line x1="467.7745959827198" y1="381.3" x2="467.7745959827198" y2="378.3" stroke="#000" stroke-width="1.6"/>
<line x1="471.1112936911668" y1="381.3" x2="471.1112936911668" y2="378.3" stroke="#000" stroke-width="1.6"/>
<line x1="473.9324314062008" y1="381.3" x2="473.9324314062008" y2="378.3" stroke="#000" stroke-width="1.6"/>
<line x1="476.3762120518405" y1="381.3" x2="476.3762120518405" y2="378.3" stroke="#000" stroke-width="1.6"/>
<line x1="478.5317793477732" y1="381.3" x2="478.5317793477732" y2="378.3" stroke="#000" stroke-width="1.6"/>
<line x1="438.32" y1="381.3" x2="438.32" y2="376.3" stroke="#000" stroke-width="1.6"/>
<line x1="493.14540401728016" y1="381.3" x2="493.14540401728016" y2="378.3" stroke="#000" stroke-width="1.6"/>
<line x1="500.5658896738866" y1="381.3" x2="500.5658896738866" y2="378.3" stroke="#000" stroke-width="1.6"/>
<line x1="505.8308080345604" y1="381.3" x2="505.8308080345604" y2="378.3" stroke="#000" stroke-width="1.6"/>
<line x1="509.91459598271985" y1="381.3" x2="509.91459598271985" y2="378.3" stroke="#000" stroke-width="1.6"/>
<line x1="513.2512936911668" y1="381.3" x2="513.2512936911668" y2="378.3" stroke="#000" stroke-width="1.6"/>
<line x1="516.0724314062008" y1="381.3" x2="516.0724314062008" y2="378.3" stroke="#000" stroke-width="1.6"/>
<line x1="518.5162120518405" y1="381.3" x2="518.5162120518405" y2="378.3" stroke="#000" stroke-width="1.6"/>
<line x1="520.6717793477732" y1="381.3" x2="520.6717793477732" y2="378.3" stroke="#000" stroke-width="1.6"/>
<line x1="480.46000000000004" y1="381.3" x2="480.46000000000004" y2="376.3" stroke="#000" stroke-width="1.6"/>
<text x="303.29" y="396.3" font-size="10.8" font-family="Liberation Sans, sans-serif" font-weight="bold" > 0</text>
<path d="M478,0 L478,1170 L140,959 L140,1180 L493,1409 L759,1409 L759,0 Z" transform="translate(303.29,396.3) scale(0.00527,-0.00527)"/>
<text x="315.7" y="390.6" font-size="6.5" text-anchor="start" font-family="Liberation Sans, sans-serif" font-weight="bold" >0</text>
<text x="345.43" y="396.3" font-size="10.8" font-family="Liberation Sans, sans-serif" font-weight="bold" > 0</text>
<path d="M478,0 L478,1170 L140,959 L140,1180 L493,1409 L759,1409 L759,0 Z" transform="translate(345.43,396.3) scale(0.00527,-0.00527)"/>
<text x="357.84" y="390.6" font-size="6.5" font-family="Liberation Sans, sans-serif" font-weight="bold" > </text>
<path d="M478,0 L478,1170 L140,959 L140,1180 L493,1409 L759,1409 L759,0 Z" transform="translate(357.84,390.6) scale(0.00317,-0.00317)"/>
<text x="387.57" y="396.3" font-size="10.8" font-family="Liberation Sans, sans-serif" font-weight="bold" > 0</text>
<path d="M478,0 L478,1170 L140,959 L140,1180 L493,1409 L759,1409 L759,0 Z" transform="translate(387.57,396.3) scale(0.00527,-0.00527)"/>
<text x="399.98" y="390.6" font-size="6.5" text-anchor="start" font-family="Liberation Sans, sans-serif" font-weight="bold" >2</text>
<text x="429.71" y="396.3" font-size="10.8" font-family="Liberation Sans, sans-serif" font-weight="bold" > 0</text>
<path d="M478,0 L478,1170 L140,959 L140,1180 L493,1409 L759,1409 L759,0 Z" transform="translate(429.71,396.3) scale(0.00527,-0.00527)"/>
<text x="442.12" y="390.6" font-size="6.5" text-anchor="start" font-family="Liberation Sans, sans-serif" font-weight="bold" >3</text>
<text x="471.85" y="396.3" font-size="10.8" font-family="Liberation Sans, sans-serif" font-weight="bold" > 0</text>
<path d="M478,0 L478,1170 L140,959 L140,1180 L493,1409 L759,1409 L759,0 Z" transform="translate(471.85,396.3) scale(0.00527,-0.00527)"/>
<text x="484.26" y="390.6" font-size="6.5" text-anchor="start" font-family="Liberation Sans, sans-serif" font-weight="bold" >4</text>
<text x="513.99" y="396.3" font-size="10.8" font-family="Liberation Sans, sans-serif" font-weight="bold" > 0</text>
<path d="M478,0 L478,1170 L140,959 L140,1180 L493,1409 L759,1409 L759,0 Z" transform="translate(513.99,396.3) scale(0.00527,-0.00527)"/>
<text x="526.4" y="390.6" font-size="6.5" text-anchor="start" font-family="Liberation Sans, sans-serif" font-weight="bold" >5</text>
<text x="300.79" y="384.40000000000003" font-size="10.8" font-family="Liberation Sans, sans-serif" font-weight="bold" letter-spacing="0.3" >0</text>
<text x="294.49" y="329.1666666666667" font-size="10.8" font-family="Liberation Sans, sans-serif" font-weight="bold" letter-spacing="0.3" >20</text>
<text x="294.49" y="273.93333333333334" font-size="10.8" font-family="Liberation Sans, sans-serif" font-weight="bold" letter-spacing="0.3" >40</text>
<text x="294.49" y="218.7" font-size="10.8" font-family="Liberation Sans, sans-serif" font-weight="bold" letter-spacing="0.3" >60</text>
<text x="410.5" y="410.6" font-size="13.5" text-anchor="middle" font-family="Liberation Sans, sans-serif" font-weight="bold" >Luminance (cd/m<tspan font-size="13.6" font-weight="normal" dy="-6">2</tspan><tspan dy="6">)</tspan></text>
<text x="0" y="0" font-size="13.9" text-anchor="middle" font-family="Liberation Sans, sans-serif" font-weight="bold" transform="translate(284.9,299.7) rotate(-90)">Current efficacy (cd/A)</text>
<text x="322.3" y="231.6" font-size="13" text-anchor="middle" font-family="Liberation Sans, sans-serif" font-weight="bold" >(d)</text>
<g clip-path="url(#cD)">
<mask id="m3" maskUnits="userSpaceOnUse" x="0" y="0" width="533" height="418"><rect width="533" height="418" fill="#fff"/><circle cx="329.6" cy="294.1" r="5.8" fill="#000"/><circle cx="351.5" cy="266.5" r="5.8" fill="#000"/><circle cx="368.5" cy="274.0" r="5.8" fill="#000"/><circle cx="383.4" cy="276.0" r="5.8" fill="#000"/><circle cx="398.1" cy="283.0" r="5.8" fill="#000"/><circle cx="413.1" cy="290.8" r="5.8" fill="#000"/><circle cx="432.2" cy="285.3" r="5.8" fill="#000"/><circle cx="454.8" cy="304.1" r="5.8" fill="#000"/><circle cx="475.7" cy="319.6" r="5.8" fill="#000"/><circle cx="480.0" cy="362.7" r="5.8" fill="#000"/><circle cx="478.9" cy="371.1" r="5.8" fill="#000"/></mask>
<path d="M308.9,322.6 L329.6,294.1 L351.5,266.5 L368.5,274.0 L383.4,276.0 L398.1,283.0 L413.1,290.8 L432.2,285.3 L454.8,304.1 L475.7,319.6 L480.0,362.7 L478.9,371.1" fill="none" stroke="#5a5a5a" stroke-width="1.5" stroke-linejoin="round" mask="url(#m3)"/>
<circle cx="329.6" cy="294.1" r="3.8" fill="#fff" stroke="#5a5a5a" stroke-width="1.5"/>
<circle cx="329.6" cy="294.1" r="1.1" fill="#5a5a5a"/>
<circle cx="351.5" cy="266.5" r="3.8" fill="#fff" stroke="#5a5a5a" stroke-width="1.5"/>
<circle cx="351.5" cy="266.5" r="1.1" fill="#5a5a5a"/>
<circle cx="368.5" cy="274.0" r="3.8" fill="#fff" stroke="#5a5a5a" stroke-width="1.5"/>
<circle cx="368.5" cy="274.0" r="1.1" fill="#5a5a5a"/>
<circle cx="383.4" cy="276.0" r="3.8" fill="#fff" stroke="#5a5a5a" stroke-width="1.5"/>
<circle cx="383.4" cy="276.0" r="1.1" fill="#5a5a5a"/>
<circle cx="398.1" cy="283.0" r="3.8" fill="#fff" stroke="#5a5a5a" stroke-width="1.5"/>
<circle cx="398.1" cy="283.0" r="1.1" fill="#5a5a5a"/>
<circle cx="413.1" cy="290.8" r="3.8" fill="#fff" stroke="#5a5a5a" stroke-width="1.5"/>
<circle cx="413.1" cy="290.8" r="1.1" fill="#5a5a5a"/>
<circle cx="432.2" cy="285.3" r="3.8" fill="#fff" stroke="#5a5a5a" stroke-width="1.5"/>
<circle cx="432.2" cy="285.3" r="1.1" fill="#5a5a5a"/>
<circle cx="454.8" cy="304.1" r="3.8" fill="#fff" stroke="#5a5a5a" stroke-width="1.5"/>
<circle cx="454.8" cy="304.1" r="1.1" fill="#5a5a5a"/>
<circle cx="475.7" cy="319.6" r="3.8" fill="#fff" stroke="#5a5a5a" stroke-width="1.5"/>
<circle cx="475.7" cy="319.6" r="1.1" fill="#5a5a5a"/>
<circle cx="480.0" cy="362.7" r="3.8" fill="#fff" stroke="#5a5a5a" stroke-width="1.5"/>
<circle cx="480.0" cy="362.7" r="1.1" fill="#5a5a5a"/>
<circle cx="478.9" cy="371.1" r="3.8" fill="#fff" stroke="#5a5a5a" stroke-width="1.5"/>
<circle cx="478.9" cy="371.1" r="1.1" fill="#5a5a5a"/>
</g>
<g clip-path="url(#cD)">
<mask id="m4" maskUnits="userSpaceOnUse" x="0" y="0" width="533" height="418"><rect width="533" height="418" fill="#fff"/><circle cx="332.6" cy="266.5" r="6.0" fill="#000"/><circle cx="347.7" cy="240.1" r="6.0" fill="#000"/><circle cx="383.4" cy="233.0" r="6.0" fill="#000"/><circle cx="400.1" cy="240.7" r="6.0" fill="#000"/><circle cx="413.4" cy="248.1" r="6.0" fill="#000"/><circle cx="426.9" cy="252.6" r="6.0" fill="#000"/><circle cx="439.7" cy="261.9" r="6.0" fill="#000"/><circle cx="453.6" cy="270.7" r="6.0" fill="#000"/><circle cx="469.9" cy="277.0" r="6.0" fill="#000"/><circle cx="485.0" cy="305.0" r="6.0" fill="#000"/><circle cx="490.7" cy="337.0" r="6.0" fill="#000"/><circle cx="494.1" cy="348.4" r="6.0" fill="#000"/><circle cx="493.0" cy="358.2" r="6.0" fill="#000"/></mask>
<path d="M308.9,302.5 L332.6,266.5 L347.7,240.1 L383.4,233.0 L400.1,240.7 L413.4,248.1 L426.9,252.6 L439.7,261.9 L453.6,270.7 L469.9,277.0 L485.0,305.0 L490.7,337.0 L494.1,348.4 L493.0,358.2" fill="none" stroke="#ff0000" stroke-width="2.0" stroke-linejoin="round" mask="url(#m4)"/>
<circle cx="332.6" cy="266.5" r="3.75" fill="#fff" stroke="#ff0000" stroke-width="2.2"/>
<circle cx="332.6" cy="266.5" r="1.1" fill="#ff0000"/>
<circle cx="347.7" cy="240.1" r="3.75" fill="#fff" stroke="#ff0000" stroke-width="2.2"/>
<circle cx="347.7" cy="240.1" r="1.1" fill="#ff0000"/>
<circle cx="383.4" cy="233.0" r="3.75" fill="#fff" stroke="#ff0000" stroke-width="2.2"/>
<circle cx="383.4" cy="233.0" r="1.1" fill="#ff0000"/>
<circle cx="400.1" cy="240.7" r="3.75" fill="#fff" stroke="#ff0000" stroke-width="2.2"/>
<circle cx="400.1" cy="240.7" r="1.1" fill="#ff0000"/>
<circle cx="413.4" cy="248.1" r="3.75" fill="#fff" stroke="#ff0000" stroke-width="2.2"/>
<circle cx="413.4" cy="248.1" r="1.1" fill="#ff0000"/>
<circle cx="426.9" cy="252.6" r="3.75" fill="#fff" stroke="#ff0000" stroke-width="2.2"/>
<circle cx="426.9" cy="252.6" r="1.1" fill="#ff0000"/>
<circle cx="439.7" cy="261.9" r="3.75" fill="#fff" stroke="#ff0000" stroke-width="2.2"/>
<circle cx="439.7" cy="261.9" r="1.1" fill="#ff0000"/>
<circle cx="453.6" cy="270.7" r="3.75" fill="#fff" stroke="#ff0000" stroke-width="2.2"/>
<circle cx="453.6" cy="270.7" r="1.1" fill="#ff0000"/>
<circle cx="469.9" cy="277.0" r="3.75" fill="#fff" stroke="#ff0000" stroke-width="2.2"/>
<circle cx="469.9" cy="277.0" r="1.1" fill="#ff0000"/>
<circle cx="485.0" cy="305.0" r="3.75" fill="#fff" stroke="#ff0000" stroke-width="2.2"/>
<circle cx="485.0" cy="305.0" r="1.1" fill="#ff0000"/>
<circle cx="490.7" cy="337.0" r="3.75" fill="#fff" stroke="#ff0000" stroke-width="2.2"/>
<circle cx="490.7" cy="337.0" r="1.1" fill="#ff0000"/>
<circle cx="494.1" cy="348.4" r="3.75" fill="#fff" stroke="#ff0000" stroke-width="2.2"/>
<circle cx="494.1" cy="348.4" r="1.1" fill="#ff0000"/>
<circle cx="493.0" cy="358.2" r="3.75" fill="#fff" stroke="#ff0000" stroke-width="2.2"/>
<circle cx="493.0" cy="358.2" r="1.1" fill="#ff0000"/>
</g>
<rect x="311.9" y="215.6" width="210.70000000000005" height="165.70000000000002" fill="none" stroke="#000" stroke-width="2"/>
<line x1="430.0" y1="225.6" x2="437.40000000000003" y2="225.6" stroke="#000000" stroke-width="2.0"/>
<line x1="448.2" y1="225.6" x2="455.6" y2="225.6" stroke="#000000" stroke-width="2.0"/>
<circle cx="442.8" cy="225.6" r="3.6" fill="#fff" stroke="#000000" stroke-width="2.0"/>
<circle cx="442.8" cy="225.6" r="0.9" fill="#000000"/>
<text x="457.7" y="229.4" font-size="10.2" text-anchor="start" font-family="Liberation Sans, sans-serif" font-weight="bold" letter-spacing="0.35">PEDOT:PSS</text>
<line x1="430.0" y1="239.0" x2="437.40000000000003" y2="239.0" stroke="#ff0000" stroke-width="2.0"/>
<line x1="448.2" y1="239.0" x2="455.6" y2="239.0" stroke="#ff0000" stroke-width="2.0"/>
<circle cx="442.8" cy="239.0" r="3.6" fill="#fff" stroke="#ff0000" stroke-width="2.0"/>
<circle cx="442.8" cy="239.0" r="0.9" fill="#ff0000"/>
<text x="457.7" y="242.9" font-size="10.2" text-anchor="start" font-family="Liberation Sans, sans-serif" font-weight="bold" letter-spacing="0.35">CuPC</text>
</svg>
</body></html>
